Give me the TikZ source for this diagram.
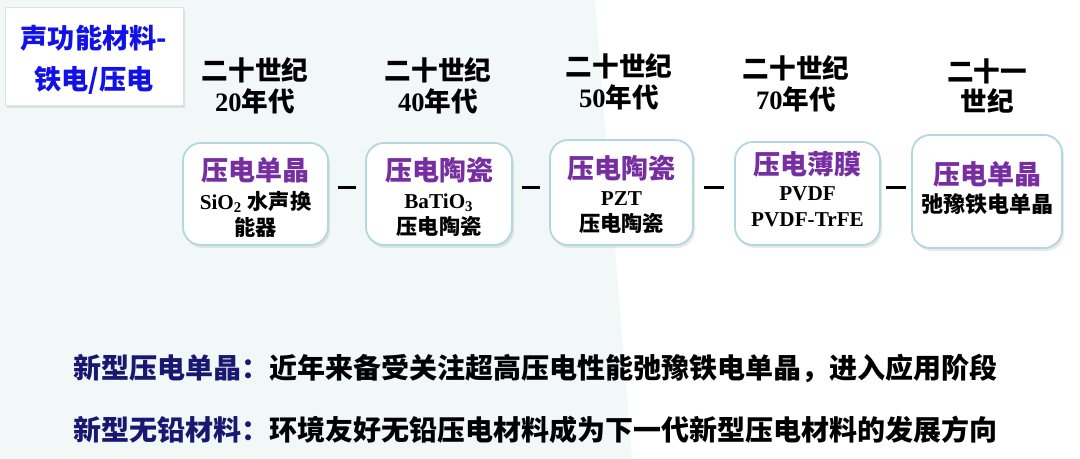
\documentclass[tikz,border=0pt]{standalone}
\usepackage{fontspec}
\setmainfont{Liberation Serif}
\newfontfamily\zh{Noto Sans CJK SC}
\usetikzlibrary{shadows}

\definecolor{titleblue}{RGB}{18,18,232}
\definecolor{cardpurple}{RGB}{118,46,160}
\definecolor{cardedge}{RGB}{176,216,222}
\definecolor{labelnavy}{RGB}{24,24,112}
\definecolor{paneltint}{RGB}{242,248,248}

\begin{document}
\begin{tikzpicture}[x=0.5pt,y=-0.5pt,
  card/.style={draw=cardedge,line width=0.9pt,fill=white,rounded corners=9pt,
    drop shadow={opacity=0.18,shadow xshift=1pt,shadow yshift=-1.5pt}},
  era/.style={font=\zh\bfseries\fontsize{13.3}{15.2}\selectfont,align=center},
  cardtitle/.style={font=\zh\bfseries\fontsize{13.5}{15}\selectfont,text=cardpurple},
  cardnote/.style={font=\bfseries\fontsize{10.6}{13}\selectfont,align=center},
  joiner/.style={line width=1.5pt},
  trend/.style={font=\zh\bfseries\fontsize{14}{16}\selectfont,anchor=west}
]
\useasboundingbox (0,0) rectangle (1080,459);

% ---- backdrop: tinted panel on the left ----
\fill[paneltint] (0,0) -- (595,0) -- (632,459) -- (0,459) -- cycle;

% ---- heading box ----
\node[draw=black!12,fill=white,minimum width=89pt,minimum height=49pt,
  drop shadow={opacity=0.2,shadow xshift=1pt,shadow yshift=-1.5pt}] (head) at (94,56.5) {};
\node[font=\zh\bfseries\fontsize{13.6}{15}\selectfont,text=titleblue] (headA) at (94,38) {声功能材料-};
\node[font=\zh\bfseries\fontsize{13.6}{15}\selectfont,text=titleblue] (headB) at (94,80) {铁电/压电};

% ---- eras ----
\node[era] (era1) at (255,86) {二十世纪\\[0pt]{\rmfamily 20}年代};
\node[era] (era2) at (438,86) {二十世纪\\[0pt]{\rmfamily 40}年代};
\node[era] (era3) at (619,82) {二十世纪\\[0pt]{\rmfamily 50}年代};
\node[era] (era4) at (796,84) {二十世纪\\[0pt]{\rmfamily 70}年代};
\node[era] (era5) at (987,86) {二十一\\[0pt]世纪};

% ---- material cards ----
\node[card,minimum width=72.5pt,minimum height=51pt]   (b1) at (255.5,194) {};
\node[card,minimum width=73pt,minimum height=51pt]     (b2) at (439,194) {};
\node[card,minimum width=71.5pt,minimum height=52.5pt] (b3) at (621.5,192.5) {};
\node[card,minimum width=72.5pt,minimum height=51.5pt] (b4) at (807.5,193.5) {};
\node[card,minimum width=75pt,minimum height=56.5pt]   (b5) at (987,191.5) {};

\node[cardtitle] (t1) at (255.5,170) {压电单晶};
\node[cardtitle] (t2) at (439,170)   {压电陶瓷};
\node[cardtitle] (t3) at (621.5,168) {压电陶瓷};
\node[cardtitle] (t4) at (807.5,164) {压电薄膜};
\node[cardtitle] (t5) at (987,174)   {压电单晶};

\node[cardnote] (n1) at (255.5,214) {SiO\textsubscript{2} {\zh 水声换}\\{\zh 能器}};
\node[cardnote] (n2) at (439,215)   {BaTiO\textsubscript{3}\\{\zh 压电陶瓷}};
\node[cardnote] (n3) at (621.5,213) {PZT\\{\zh 压电陶瓷}};
\node[cardnote] (n4) at (807.5,207) {PVDF\\PVDF-TrFE};
\node[cardnote,font=\zh\bfseries\fontsize{11}{13}\selectfont] (n5) at (987,204) {弛豫铁电单晶};

% dashes between cards
\draw[joiner,shorten <=4.5pt,shorten >=4.5pt]   ([yshift=3pt]b1.east) -- ([yshift=3pt]b1.east -| b2.west);
\draw[joiner,shorten <=4.5pt,shorten >=4.5pt]   ([yshift=3pt]b2.east) -- ([yshift=3pt]b2.east -| b3.west);
\draw[joiner,shorten <=5.25pt,shorten >=5.25pt] ([yshift=2.5pt]b3.east) -- ([yshift=2.5pt]b3.east -| b4.west);
\draw[joiner,shorten <=2.75pt,shorten >=2.75pt] ([yshift=3pt]b4.east) -- ([yshift=3pt]b4.east -| b5.west);

% ---- trends ----
\node[trend] (trend1) at (66,368) {\textcolor{labelnavy}{新型压电单晶：}近年来备受关注超高压电性能弛豫铁电单晶，进入应用阶段};
\node[trend] (trend2) at (66,430) {\textcolor{labelnavy}{新型无铅材料：}环境友好无铅压电材料成为下一代新型压电材料的发展方向};

\end{tikzpicture}
\end{document}
